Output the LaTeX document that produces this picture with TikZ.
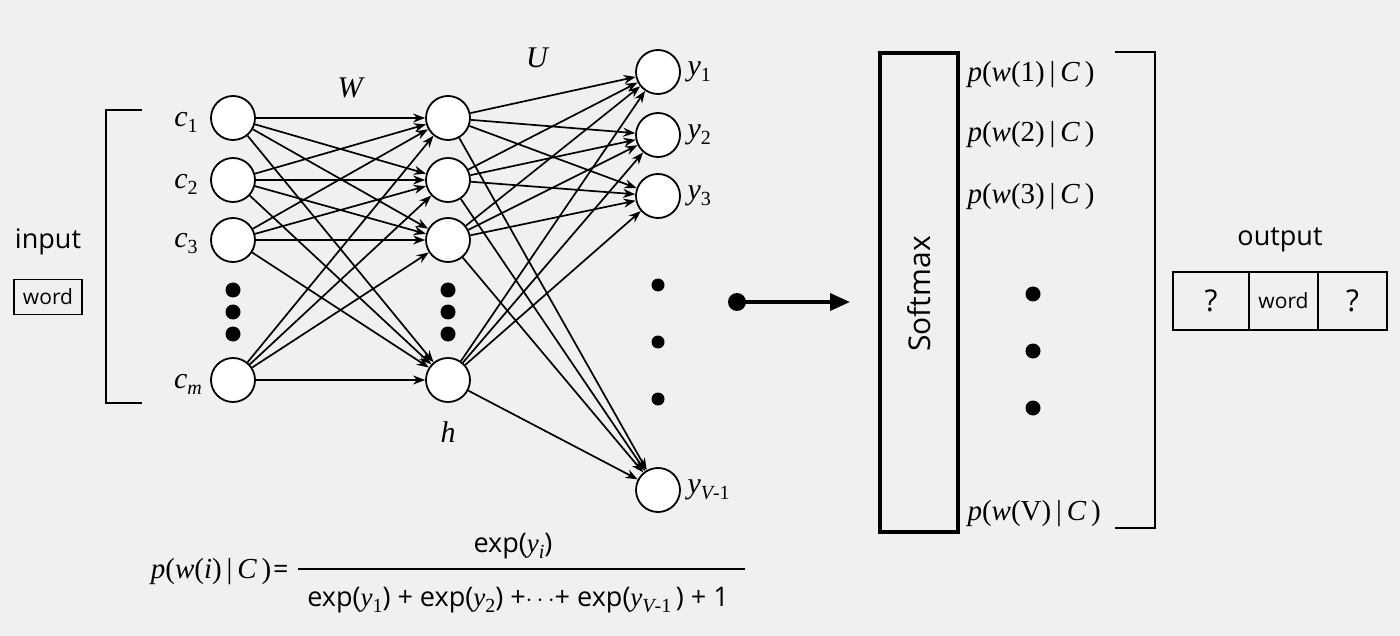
\documentclass[tikz,border=0pt]{standalone}
\usepackage{fontspec}
\setmainfont{Open Sans}
\newfontfamily\tms{Liberation Serif}
\usetikzlibrary{arrows.meta}
\newcommand{\iv}[1]{{\tms\itshape #1}}
\newcommand{\sbx}[1]{\raisebox{-6pt}{\fontsize{20}{20}\selectfont\tms\upshape #1}}
\newcommand{\pw}[1]{{\tms\fontsize{29}{31}\selectfont\textit{p}(\textit{w}(#1)\,|\,\textit{C}\,)}}
\begin{document}
\begin{tikzpicture}[x=1pt,y=-1pt,
  neur/.style={circle,draw,line width=1.8pt,fill=white,minimum size=44pt,inner sep=0},
  bdot/.style={circle,fill=black,minimum size=15pt,inner sep=0},
  conn/.style={line width=1.7pt,-{Stealth[length=12pt,width=9pt]}},
  lab/.style={font=\tms\fontsize{30}{32}\selectfont\itshape},
  sans/.style={font=\fontsize{27}{30}\selectfont}]
\fill[white!94!black] (0,0) rectangle (1400,636);
\useasboundingbox (0,0) rectangle (1400,636);
% nodes
\foreach \n/\y in {1/118,2/180,3/240,4/380}{
  \node[neur] (c\n) at (233,\y) {};
  \node[neur] (h\n) at (448,\y) {};}
\foreach \n/\y in {1/72,2/135,3/196,4/490}{\node[neur] (y\n) at (658,\y) {};}
\foreach \y/\k in {290/a,312/b,334/c}{\node[bdot] (dc\k) at (233,\y) {}; \node[bdot] (dh\k) at (448,\y) {};}
\foreach \y/\k in {285/a,342/b,399/c}{\node[bdot,minimum size=13pt] (dy\k) at (658,\y) {};}
\foreach \i in {1,...,4}{\foreach \j in {1,...,4}{
  \draw[conn] (c\i) -- (h\j);
  \draw[conn] (h\i) -- (y\j);}}
% labels
\node[lab] (lc1) at (186,122) {c\sbx{1}};
\node[lab] (lc2) at (186,184) {c\sbx{2}};
\node[lab] (lc3) at (186,244) {c\sbx{3}};
\node[lab] (lc4) at (188,384) {c\sbx{\itshape m}};
\node[lab,anchor=west] (ly1) at (684,72) {y\sbx{1}};
\node[lab,anchor=west] (ly2) at (684,135) {y\sbx{2}};
\node[lab,anchor=west] (ly3) at (684,196) {y\sbx{3}};
\node[lab,anchor=west] (ly4) at (684,490) {y\sbx{\itshape V\upshape-1}};
\node[lab] (lW) at (350,88) {W};
\node[lab] (lU) at (537,58) {U};
\node[lab] (lh) at (448,432) {h};
% bracket left
\draw[line width=1.5pt] (142,110) -- (106,110) -- (106,403) -- (142,403);
\node[sans] (inp) at (48,242) {input};
\node[draw,line width=1.2pt,font=\fontsize{21}{23}\selectfont,minimum width=68pt,minimum height=35pt,inner sep=0] (wd) at (48,297) {word};
% arrow
\node[bdot,minimum size=18pt] (ad) at (737,302) {};
\coordinate (ae) at (850,302);
\draw[line width=3.5pt,-{Triangle[length=20pt,width=17pt]}] (ad.center) -- (ae);
% softmax
\node[draw,line width=4pt,minimum width=78pt,minimum height=479pt,inner sep=0] (sm) at (919,292.5) {};
\node[rotate=90,font=\fontsize{30}{32}\selectfont] (smt) at (919,294) {Softmax};
\node[anchor=west] (p1) at (964,75) {\pw{1}};
\node[anchor=west] (p2) at (964,135) {\pw{2}};
\node[anchor=west] (p3) at (964,197) {\pw{3}};
\node[anchor=west] (p4) at (964,514) {\pw{V}};
\foreach \y/\k in {294/a,351/b,408/c}{\node[bdot,minimum size=15pt] (dp\k) at (1033,\y) {};}
\draw[line width=1.5pt] (1115,52) -- (1155,52) -- (1155,528) -- (1115,528);
% output
\node[sans] (outl) at (1280,240) {output};
\node[draw,line width=1.2pt,minimum width=76pt,minimum height=58pt,font=\fontsize{30}{32}\selectfont] (o1) at (1211,301) {?};
\node[draw,line width=1.2pt,minimum width=69pt,minimum height=58pt,font=\fontsize{21}{23}\selectfont] (o2) at (1283.5,301) {word};
\node[draw,line width=1.2pt,minimum width=69pt,minimum height=58pt,font=\fontsize{30}{32}\selectfont] (o3) at (1352.5,301) {?};
% formula
\node[anchor=east] (fl) at (292,572) {\pw{\textit{i}}\,{\fontsize{27}{29}\selectfont =}};
\node (num) at (513,546) {\fontsize{27}{29}\selectfont exp(\iv{y}\sbx{\itshape i})};
\node (den) at (518,600) {\fontsize{27}{29}\selectfont exp(\iv{y}\sbx{1}) + exp(\iv{y}\sbx{2}) +$\cdots$+ exp(\iv{y}\sbx{\itshape V\upshape-1}\,) + 1};
\coordinate (fa) at (298,569);
\coordinate (fb) at (745,569);
\draw[line width=1.5pt] (fa) -- (fb);
\end{tikzpicture}
\end{document}
